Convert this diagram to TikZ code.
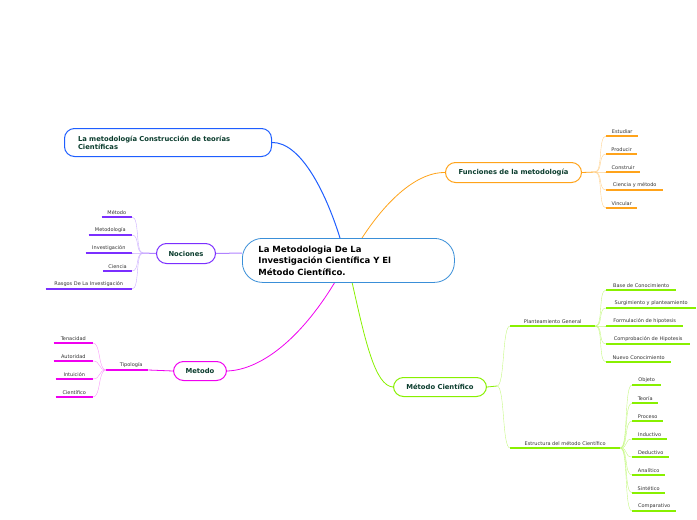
\documentclass[tikz,border=0pt]{standalone}
\usepackage{fontspec}
\setmainfont{DejaVu Sans}
\begin{document}
\begin{tikzpicture}[x=1pt,y=-1pt,
  box/.style={draw,rounded corners=10pt,line width=1pt,fill=white,font=\bfseries\fontsize{6.8}{8}\selectfont,text=boxtext,align=left},
  leafr/.style={inner xsep=5pt,inner ysep=2pt,anchor=south west,align=left,font=\fontsize{5}{6}\selectfont,text=black!80},
  leafl/.style={inner xsep=5pt,inner ysep=2pt,anchor=south east,align=right,font=\fontsize{5}{6}\selectfont,text=black!80}]
\definecolor{boxtext}{HTML}{0B3D2E}
\useasboundingbox (0,0) rectangle (697,520);
\definecolor{colB}{HTML}{1E5EFF}\definecolor{colO}{HTML}{FFA31A}\definecolor{colP}{HTML}{7B2FFF}
\definecolor{colM}{HTML}{F000F0}\definecolor{colG}{HTML}{88F000}\definecolor{colC}{HTML}{3A8FD8}
\coordinate (c1) at (340,238);\coordinate (c2) at (362,238);\coordinate (c3) at (242,253);
\coordinate (c4) at (335,282);\coordinate (c5) at (352,282);
\node[box,draw=colB,minimum width=207pt,minimum height=28pt,text width=180pt,anchor=north west] (b) at (64,128) {La metodología Construcción de teorías\\Científicas};
\node[box,draw=colO,minimum width=136pt,minimum height=20pt,anchor=north west] (f) at (445,162) {Funciones de la metodología};
\node[box,draw=colP,minimum width=59pt,minimum height=20pt,anchor=north west] (no) at (156,243) {Nociones};
\node[box,draw=colM,minimum width=53pt,minimum height=19pt,anchor=north west] (me) at (173,361) {Metodo};
\node[box,draw=colG,minimum width=93pt,minimum height=19pt,anchor=north west] (mc) at (393,377) {Método Científico};
\draw[colB,line width=1pt] (b.east) .. controls (300,142) and (325,190) .. (c1);
\draw[colO,line width=0.8pt] (c2) .. controls (390,195) and (420,172) .. (f.west);
\draw[colP!60,line width=1pt] (c3) -- (no.east);
\draw[colM,line width=0.8pt] (c4) .. controls (300,340) and (260,370) .. (me.east);
\draw[colG,line width=0.8pt] (c5) .. controls (365,340) and (375,386) .. (mc.west);
\node[draw=colC,line width=0.8pt,rounded corners=20pt,fill=white,minimum width=212pt,minimum height=44pt,anchor=north west,text width=180pt,align=left,font=\bfseries\fontsize{8.5}{11.5}\selectfont,text=black] (c) at (242,238) {La Metodologia De La\\Investigación Científica Y El\\Método Científico.};
\coordinate (hf) at (595,172); \draw[colO,line width=0.8pt] (f.east)--(hf);
\foreach \n/\y/\w/\t in {f1/136/32/Estudiar,f2/154/31/Producir,f3/172/34/Construir,f4/190/57/Ciencia y método,f5/208/31/Vincular}{
  \node[leafr,minimum width=\w pt] (\n) at (606,\y) {\t};
  \draw[colO,line width=1.2pt] (\n.south west)--(\n.south east);
  \draw[colO!50] (hf) .. controls +(8,0) and +(-8,0) .. (\n.south west);}
\coordinate (hn) at (143,253); \draw[colP!60,line width=1pt] (no.west)--(hn);
\foreach \n/\y/\w/\t in {n1/217/30/Método,n2/235/43/Metodología,n3/253/46/Investigación,n4/271/26/Ciencia,n5/289/86/Rasgos De La Investigación}{
  \node[leafl,minimum width=\w pt] (\n) at (132,\y) {\t};
  \draw[colP,line width=1.2pt] (\n.south west)--(\n.south east);
  \draw[colP!40] (hn) .. controls +(-8,0) and +(8,0) .. (\n.south east);}
\node[leafr,minimum width=42pt] (tp) at (106,370) {\hspace*{8pt}Tipología};
\draw[colM,line width=1.2pt] (tp.south west)--(tp.south east);
\draw[colM,line width=0.8pt] (me.west)--(tp.south east);
\foreach \n/\y/\w/\t in {m1/343/39/Tenacidad,m2/361/39/Autoridad,m3/379/37/Intuición,m4/397/37/Científico}{
  \node[leafl,minimum width=\w pt,align=left] (\n) at (93,\y) {\t};
  \draw[colM,line width=1.2pt] (\n.south west)--(\n.south east);
  \draw[colM!40] (tp.south west) .. controls +(-8,0) and +(8,0) .. (\n.south east);}
\coordinate (hm) at (497,386); \draw[colG,line width=0.8pt] (mc.east)--(hm);
\node[leafr,minimum width=85pt] (pg) at (510,326) {Planteamiento General};
\node[leafr,minimum width=110pt] (em) at (510,448) {Estructura del método Científico};
\foreach \n in {pg,em}{
  \draw[colG,line width=1.2pt] (\n.south west)--(\n.south east);
  \draw[colG!50] (hm) .. controls +(8,0) and +(-8,0) .. (\n.south west);}
\foreach \n/\y/\w/\t in {p1/290/70/Base de Conocimiento,p2/308/90/Surgimiento y planteamiento,p3/326/77/Formulación de hipotesis,p4/344/84/Comprobación de Hipotesis,p5/362/65/Nuevo Conocimiento}{
  \node[leafr,minimum width=\w pt] (\n) at (606,\y) {\t};
  \draw[colG,line width=1.2pt] (\n.south west)--(\n.south east);
  \draw[colG!50] (pg.south east) .. controls +(8,0) and +(-8,0) .. (\n.south west);}
\foreach \n/\y/\w/\t in {e1/385/29/Objeto,e2/403/26/Teoría,e3/421/31/Proceso,e4/439/35/Inductivo,e5/457/37/Deductivo,e6/475/33/Analítico,e7/493/33/Sintético,e8/511/44/Comparativo}{
  \node[leafr,minimum width=\w pt] (\n) at (632,\y) {\t};
  \draw[colG,line width=1.2pt] (\n.south west)--(\n.south east);
  \draw[colG!50] (em.south east) .. controls +(8,0) and +(-8,0) .. (\n.south west);}
\end{tikzpicture}
\end{document}
